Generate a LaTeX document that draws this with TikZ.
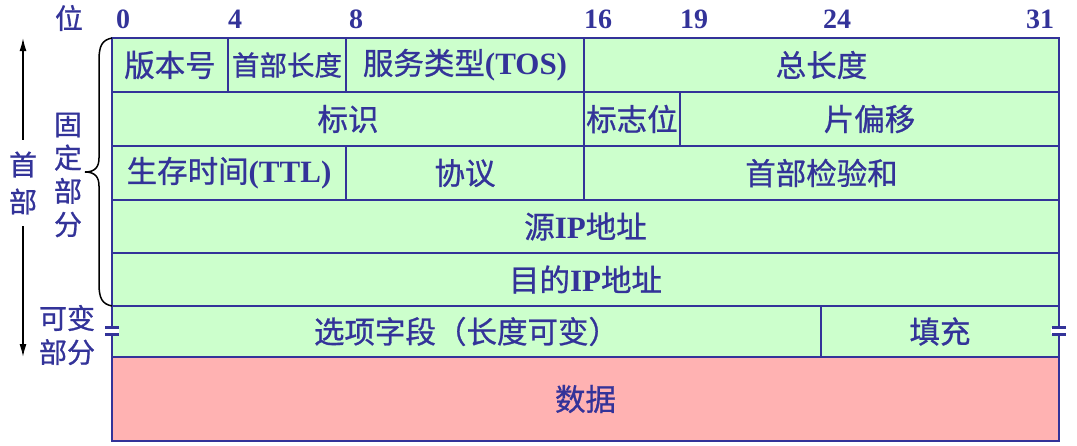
\documentclass[tikz,border=0pt]{standalone}
\usepackage{fontspec}
\setmainfont{Liberation Serif}
\newfontfamily\cjk[FakeBold=0.8]{Noto Sans CJK SC}
\usetikzlibrary{arrows.meta}
\definecolor{navy}{RGB}{51,51,153}
\definecolor{lgreen}{RGB}{204,255,204}
\definecolor{lpink}{RGB}{255,178,178}
\newcommand\latn[1]{{\rmfamily\bfseries\fontsize{31}{32}\selectfont #1}}
\begin{document}
\begin{tikzpicture}[x=1pt,y=-1pt,
  field/.style={draw=navy, fill=lgreen, line width=2.4pt, inner sep=0pt, text=navy,
    font=\cjk\fontsize{30.5}{32}\selectfont},
  datafield/.style={field, fill=lpink},
  bitlbl/.style={text=navy, font=\rmfamily\bfseries\fontsize{28}{30}\selectfont, anchor=base, inner sep=0pt},
  side/.style={text=navy, inner sep=0pt, align=center},
  brk/.style={draw=navy, line width=2.4pt},
  arr/.style={line width=1.5pt, -{Latex[length=13pt,width=7pt]}},
]
\useasboundingbox (0,0) rectangle (1077,445);

% bit positions
\node[side, font=\cjk\fontsize{28}{30}\selectfont] (wei) at (69,18) {位};
\node[bitlbl] (b0)  at (123,28) {0};
\node[bitlbl] (b4)  at (235,28) {4};
\node[bitlbl] (b8)  at (356,28) {8};
\node[bitlbl] (b16) at (598,28) {16};
\node[bitlbl] (b19) at (694,28) {19};
\node[bitlbl] (b24) at (837,28) {24};
\node[bitlbl] (b31) at (1040,28) {31};

% row 1
\node[field, minimum width=116pt, minimum height=54pt] (ver) at (170,65) {版本号};
\node[field, minimum width=118pt, minimum height=54pt, font=\cjk\fontsize{27.5}{30}\selectfont] (hlen) at (287,65) {首部长度};
\node[field, minimum width=238pt, minimum height=54pt] (tos) at (465,65) {服务类型\latn{(TOS)}};
\node[field, minimum width=475pt, minimum height=54pt] (tlen) at (821.5,65) {总长度};
% row 2
\node[field, minimum width=472pt, minimum height=54pt] (ident) at (348,119) {标识};
\node[field, minimum width=96pt, minimum height=54pt] (flags) at (632,119) {标志位};
\node[field, minimum width=379pt, minimum height=54pt] (frag) at (869.5,119) {片偏移};
% row 3
\node[field, minimum width=234pt, minimum height=54pt] (ttl) at (229,173) {生存时间\latn{(TTL)}};
\node[field, minimum width=238pt, minimum height=54pt] (proto) at (465,173) {协议};
\node[field, minimum width=475pt, minimum height=54pt] (cksum) at (821.5,173) {首部检验和};
% row 4, 5
\node[field, minimum width=947pt, minimum height=53pt] (src) at (585.5,226.5) {源\latn{IP}地址};
\node[field, minimum width=947pt, minimum height=53pt] (dst) at (585.5,279.5) {目的\latn{IP}地址};
% row 6
\node[field, minimum width=709pt, minimum height=51pt] (opt) at (466.5,331.5) {选项字段（长度可变）};
\node[field, minimum width=238pt, minimum height=51pt] (pad) at (940,331.5) {填充};
% data
\node[datafield, minimum width=947pt, minimum height=84pt] (data) at (585.5,399) {数据};

% break marks
\fill[white] (104,328) rectangle (119,334);
\draw[brk] (105,327.5) -- (119,327.5) (105,334.5) -- (119,334.5);
\fill[white] (1051,328) rectangle (1067,334);
\draw[brk] (1052,327.5) -- (1066,327.5) (1052,334.5) -- (1066,334.5);

% brace
\draw[line width=1.5pt] (112,38) .. controls (102,40) and (99,46) .. (99,60) -- (99,158)
  .. controls (99,167) and (95,172) .. (85,172) .. controls (95,172) and (99,177) .. (99,186)
  -- (99,284) .. controls (99,298) and (102,304) .. (112,306);

% side labels
\node[side, font=\cjk\fontsize{28}{33.3}\selectfont] (fixed) at (68,175) {固\\定\\部\\分};
\node[side, font=\cjk\fontsize{28}{34}\selectfont] (var) at (67,335) {可变\\部分};
\node[side, font=\cjk\fontsize{28}{37}\selectfont, minimum height=86pt] (hd) at (23,183) {首\\部};
\coordinate (atop) at (23,38);
\coordinate (abot) at (23,357);
\draw[arr] (hd.north) -- (atop);
\draw[arr] (hd.south) -- (abot);
\end{tikzpicture}
\end{document}
